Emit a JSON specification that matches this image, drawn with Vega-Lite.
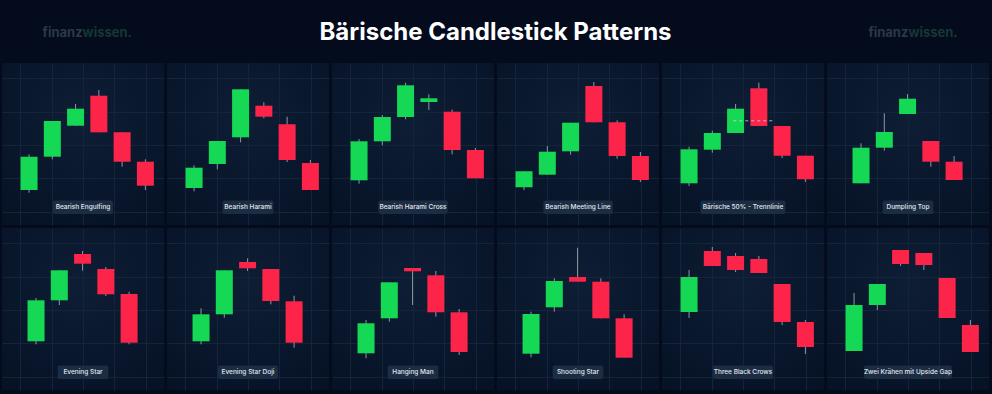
{
  "$schema": "https://vega.github.io/schema/vega-lite/v6.json",
  "background": "#030b1d",
  "padding": {"left": 2, "right": 3, "top": 0, "bottom": 4},
  "spacing": 3,
  "config": {
    "view": {"stroke": null},
    "axis": {"domain": false, "ticks": false, "labels": false, "title": null},
    "header": {"labels": false, "title": null, "labelFontSize": 0, "labelPadding": 0, "titlePadding": 0},
    "headerFacet": {"labels": false, "title": null, "labelFontSize": 0, "labelPadding": 0, "titlePadding": 0}
  },
  "vconcat": [
    {
      "width": 987,
      "height": 60,
      "data": {"values": [{"title": "Bärische Candlestick Patterns", "b1": "finanz", "b2": "wissen."}]},
      "layer": [
        {
          "mark": {"type": "text", "font": "Inter", "fontSize": 24, "fontWeight": 700, "color": "#ffffff", "baseline": "middle", "align": "center"},
          "encoding": {
            "x": {"datum": 3, "type": "quantitative", "scale": {"domain": [0, 6]}, "axis": null},
            "y": {"datum": 33, "type": "quantitative", "scale": {"domain": [0, 60], "reverse": true}, "axis": null},
            "text": {"field": "title"}
          }
        },
        {
          "mark": {"type": "text", "font": "Inter", "fontSize": 13, "fontWeight": 700, "color": "#2c3848", "baseline": "middle", "align": "right"},
          "encoding": {
            "x": {"datum": 0.49, "type": "quantitative"},
            "y": {"datum": 33, "type": "quantitative"},
            "text": {"field": "b1"}
          }
        },
        {
          "mark": {"type": "text", "font": "Inter", "fontSize": 13, "fontWeight": 700, "color": "#153834", "baseline": "middle", "align": "left"},
          "encoding": {
            "x": {"datum": 0.49, "type": "quantitative"},
            "y": {"datum": 33, "type": "quantitative"},
            "text": {"field": "b2"}
          }
        },
        {
          "mark": {"type": "text", "font": "Inter", "fontSize": 13, "fontWeight": 700, "color": "#2c3848", "baseline": "middle", "align": "right"},
          "encoding": {
            "x": {"datum": 5.51, "type": "quantitative"},
            "y": {"datum": 33, "type": "quantitative"},
            "text": {"field": "b1"}
          }
        },
        {
          "mark": {"type": "text", "font": "Inter", "fontSize": 13, "fontWeight": 700, "color": "#153834", "baseline": "middle", "align": "left"},
          "encoding": {
            "x": {"datum": 5.51, "type": "quantitative"},
            "y": {"datum": 33, "type": "quantitative"},
            "text": {"field": "b2"}
          }
        }
      ]
    },
    {
      "data": {"values": [
        {"p": "Bearish Engulfing", "k": 1, "x": 1, "o": 35, "h": 70.7, "l": 32.3, "c": 68.3},
        {"p": "Bearish Engulfing", "k": 2, "x": 2, "o": 68.3, "h": 104, "l": 65.7, "c": 104},
        {"p": "Bearish Engulfing", "k": 3, "x": 3, "o": 99.3, "h": 121, "l": 99.3, "c": 116.3},
        {"p": "Bearish Engulfing", "k": 4, "x": 4, "o": 129.3, "h": 135, "l": 92.7, "c": 92.7},
        {"p": "Bearish Engulfing", "k": 5, "x": 5, "o": 92.7, "h": 92.7, "l": 58.3, "c": 63.3},
        {"p": "Bearish Engulfing", "k": 6, "x": 6, "o": 63.3, "h": 65.7, "l": 35, "c": 39.3},

        {"p": "Bearish Harami", "k": 1, "x": 1, "o": 37, "h": 59.7, "l": 33.7, "c": 57.3},
        {"p": "Bearish Harami", "k": 2, "x": 2, "o": 61, "h": 84, "l": 55.7, "c": 84},
        {"p": "Bearish Harami", "k": 3, "x": 3, "o": 87.7, "h": 135.7, "l": 82.7, "c": 135.7},
        {"p": "Bearish Harami", "k": 4, "x": 4, "o": 119.3, "h": 122.7, "l": 106.7, "c": 108.3},
        {"p": "Bearish Harami", "k": 5, "x": 5, "o": 100.7, "h": 108.3, "l": 63, "c": 65},
        {"p": "Bearish Harami", "k": 6, "x": 6, "o": 62, "h": 65, "l": 35, "c": 35},

        {"p": "Bearish Harami Cross", "k": 1, "x": 1, "o": 44.7, "h": 86, "l": 41.3, "c": 83.7},
        {"p": "Bearish Harami Cross", "k": 2, "x": 2, "o": 83.7, "h": 110, "l": 79.7, "c": 108},
        {"p": "Bearish Harami Cross", "k": 3, "x": 3, "o": 108, "h": 142.3, "l": 105.7, "c": 139.7},
        {"p": "Bearish Harami Cross", "k": 4, "x": 4, "o": 123, "h": 130.7, "l": 115, "c": 126.7},
        {"p": "Bearish Harami Cross", "k": 5, "x": 5, "o": 113.3, "h": 115.3, "l": 70.7, "c": 75},
        {"p": "Bearish Harami Cross", "k": 6, "x": 6, "o": 75, "h": 77, "l": 46.7, "c": 46.7},

        {"p": "Bearish Meeting Line", "k": 1, "x": 1, "o": 37.7, "h": 53.7, "l": 35, "c": 53.7},
        {"p": "Bearish Meeting Line", "k": 2, "x": 2, "o": 50.3, "h": 79, "l": 50.3, "c": 73.3},
        {"p": "Bearish Meeting Line", "k": 3, "x": 3, "o": 73.7, "h": 102.3, "l": 70.3, "c": 102.3},
        {"p": "Bearish Meeting Line", "k": 4, "x": 4, "o": 139, "h": 143, "l": 102.7, "c": 102.7},
        {"p": "Bearish Meeting Line", "k": 5, "x": 5, "o": 102.7, "h": 104.7, "l": 66.3, "c": 69},
        {"p": "Bearish Meeting Line", "k": 6, "x": 6, "o": 69, "h": 73, "l": 43, "c": 45},

        {"p": "Bärische 50% - Trennlinie", "k": 1, "x": 1, "o": 41.7, "h": 78.3, "l": 39, "c": 75.7},
        {"p": "Bärische 50% - Trennlinie", "k": 2, "x": 2, "o": 75.3, "h": 94.3, "l": 72.3, "c": 92},
        {"p": "Bärische 50% - Trennlinie", "k": 3, "x": 3, "o": 92, "h": 121, "l": 92, "c": 116.3, "m": 104.2, "mx1": 2.9, "mx2": 4.65},
        {"p": "Bärische 50% - Trennlinie", "k": 4, "x": 4, "o": 136.7, "h": 142.3, "l": 99, "c": 99},
        {"p": "Bärische 50% - Trennlinie", "k": 5, "x": 5, "o": 99, "h": 99, "l": 67, "c": 69.3},
        {"p": "Bärische 50% - Trennlinie", "k": 6, "x": 6, "o": 69.3, "h": 69.3, "l": 43, "c": 45.7},

        {"p": "Dumpling Top", "k": 1, "x": 1.3, "o": 41.7, "h": 81.7, "l": 41.7, "c": 77.3},
        {"p": "Dumpling Top", "k": 2, "x": 2.3, "o": 77.3, "h": 111.7, "l": 74.3, "c": 93},
        {"p": "Dumpling Top", "k": 3, "x": 3.3, "o": 111, "h": 131, "l": 111, "c": 126.3},
        {"p": "Dumpling Top", "k": 4, "x": 4.3, "o": 84, "h": 84, "l": 58.3, "c": 63.3},
        {"p": "Dumpling Top", "k": 5, "x": 5.3, "o": 63.3, "h": 69, "l": 45, "c": 45},

        {"p": "Evening Star", "k": 1, "x": 1.3, "o": 48.7, "h": 92, "l": 45.7, "c": 89.7},
        {"p": "Evening Star", "k": 2, "x": 2.3, "o": 89.7, "h": 119.7, "l": 85, "c": 119.7},
        {"p": "Evening Star", "k": 3, "x": 3.3, "o": 136, "h": 139, "l": 119.3, "c": 126.3},
        {"p": "Evening Star", "k": 4, "x": 4.3, "o": 121, "h": 123, "l": 94, "c": 95.7},
        {"p": "Evening Star", "k": 5, "x": 5.3, "o": 96, "h": 98.3, "l": 45.7, "c": 47.3},

        {"p": "Evening Star Doji", "k": 1, "x": 1.3, "o": 48.7, "h": 81.7, "l": 45.7, "c": 75.7},
        {"p": "Evening Star Doji", "k": 2, "x": 2.3, "o": 75.7, "h": 119.7, "l": 72.3, "c": 119.7},
        {"p": "Evening Star Doji", "k": 3, "x": 3.3, "o": 128, "h": 131.7, "l": 119, "c": 121.7},
        {"p": "Evening Star Doji", "k": 4, "x": 4.3, "o": 121, "h": 121, "l": 85.7, "c": 89},
        {"p": "Evening Star Doji", "k": 5, "x": 5.3, "o": 88.7, "h": 94.3, "l": 42.3, "c": 47.3},

        {"p": "Hanging Man", "k": 1, "x": 1.3, "o": 36.7, "h": 70, "l": 31.7, "c": 66.7},
        {"p": "Hanging Man", "k": 2, "x": 2.3, "o": 71.7, "h": 107.7, "l": 68.3, "c": 107.7},
        {"p": "Hanging Man", "k": 3, "x": 3.3, "o": 122, "h": 122, "l": 85, "c": 118.7},
        {"p": "Hanging Man", "k": 4, "x": 4.3, "o": 114.7, "h": 119, "l": 73.3, "c": 77.7},
        {"p": "Hanging Man", "k": 5, "x": 5.3, "o": 77.7, "h": 81, "l": 35, "c": 38},

        {"p": "Shooting Star", "k": 1, "x": 1.3, "o": 36.3, "h": 78.3, "l": 32.7, "c": 76},
        {"p": "Shooting Star", "k": 2, "x": 2.3, "o": 82.7, "h": 111.7, "l": 78.3, "c": 109},
        {"p": "Shooting Star", "k": 3, "x": 3.3, "o": 113, "h": 142.3, "l": 108.3, "c": 108.3},
        {"p": "Shooting Star", "k": 4, "x": 4.3, "o": 108.3, "h": 111.7, "l": 71.7, "c": 71.7},
        {"p": "Shooting Star", "k": 5, "x": 5.3, "o": 71.7, "h": 75.7, "l": 32.3, "c": 32.3},

        {"p": "Three Black Crows", "k": 1, "x": 1, "o": 78, "h": 120, "l": 72, "c": 113},
        {"p": "Three Black Crows", "k": 2, "x": 2, "o": 139, "h": 143, "l": 124, "c": 124},
        {"p": "Three Black Crows", "k": 3, "x": 3, "o": 134, "h": 137, "l": 118, "c": 120},
        {"p": "Three Black Crows", "k": 4, "x": 4, "o": 131, "h": 134, "l": 117, "c": 117},
        {"p": "Three Black Crows", "k": 5, "x": 5, "o": 106, "h": 106, "l": 65, "c": 68},
        {"p": "Three Black Crows", "k": 6, "x": 6, "o": 68, "h": 70, "l": 36, "c": 43},

        {"p": "Zwei Krähen mit Upside Gap", "k": 1, "x": 1, "o": 39, "h": 97, "l": 39, "c": 85},
        {"p": "Zwei Krähen mit Upside Gap", "k": 2, "x": 2, "o": 85, "h": 106, "l": 80, "c": 106},
        {"p": "Zwei Krähen mit Upside Gap", "k": 3, "x": 3, "o": 140, "h": 140, "l": 124, "c": 126},
        {"p": "Zwei Krähen mit Upside Gap", "k": 4, "x": 4, "o": 137, "h": 137, "l": 120, "c": 125},
        {"p": "Zwei Krähen mit Upside Gap", "k": 5, "x": 5, "o": 112, "h": 112, "l": 72, "c": 72},
        {"p": "Zwei Krähen mit Upside Gap", "k": 6, "x": 6, "o": 65, "h": 70, "l": 38, "c": 38}
      ]},
      "facet": {
        "field": "p",
        "type": "nominal",
        "title": null,
        "header": {"labels": false, "title": null, "labelFontSize": 0, "labelPadding": 0, "titlePadding": 0},
        "sort": ["Bearish Engulfing", "Bearish Harami", "Bearish Harami Cross", "Bearish Meeting Line", "Bärische 50% - Trennlinie", "Dumpling Top", "Evening Star", "Evening Star Doji", "Hanging Man", "Shooting Star", "Three Black Crows", "Zwei Krähen mit Upside Gap"]
      },
      "columns": 6,
      "spacing": {"row": 3, "column": 3},
      "spec": {
        "width": 162,
        "height": 162,
        "view": {
          "stroke": null,
          "fill": {"gradient": "radial", "x1": 0.5, "y1": 0.35, "r1": 0, "x2": 0.5, "y2": 0.35, "r2": 0.75,
                   "stops": [{"offset": 0, "color": "#0e1e35"}, {"offset": 1, "color": "#061226"}]}
        },
        "layer": [
          {
            "mark": {"type": "rule", "color": "#8e98a4", "strokeWidth": 1},
            "encoding": {
              "x": {"field": "x", "type": "quantitative", "scale": {"domain": [0.052, 6.585], "nice": false, "zero": false},
                    "axis": {"values": [0.624, 1.2974, 1.9708, 2.6442, 3.318, 3.9914, 4.6648, 5.3382, 6.0116], "grid": true, "gridColor": "#142539", "gridWidth": 1}},
              "y": {"field": "l", "type": "quantitative", "scale": {"domain": [0, 162], "nice": false, "zero": false},
                    "axis": {"values": [13.3, 30, 46.7, 63.4, 80.1, 96.8, 113.5, 130.2, 146.9], "grid": true, "gridColor": "#142539", "gridWidth": 1}},
              "y2": {"field": "h"}
            }
          },
          {
            "mark": {"type": "bar", "width": 17},
            "encoding": {
              "x": {"field": "x", "type": "quantitative"},
              "y": {"field": "o", "type": "quantitative"},
              "y2": {"field": "c"},
              "color": {"condition": {"test": "datum.c > datum.o", "value": "#15d955"}, "value": "#fc2449"}
            }
          },
          {
            "transform": [{"filter": "isValid(datum.m)"}],
            "mark": {"type": "rule", "color": "#c8d0d8", "strokeWidth": 1, "strokeDash": [3, 3], "opacity": 0.85},
            "encoding": {
              "x": {"field": "mx1", "type": "quantitative"},
              "x2": {"field": "mx2"},
              "y": {"field": "m", "type": "quantitative"}
            }
          },
          {
            "transform": [
              {"filter": "datum.k == 1"},
              {"calculate": "max(54, 8 + length(datum.p) * 3.3) / 49.6", "as": "hw"},
              {"calculate": "3.318 - datum.hw", "as": "bx1"},
              {"calculate": "3.318 + datum.hw", "as": "bx2"}
            ],
            "mark": {"type": "rect", "color": "#1b2c43", "cornerRadius": 2},
            "encoding": {
              "x": {"field": "bx1", "type": "quantitative"},
              "x2": {"field": "bx2"},
              "y": {"datum": 11, "type": "quantitative"},
              "y2": {"datum": 24.5}
            }
          },
          {
            "transform": [{"filter": "datum.k == 1"}],
            "mark": {"type": "text", "font": "Inter", "fontSize": 6.5, "fontWeight": 500, "color": "#e3e9f0", "baseline": "middle", "align": "center"},
            "encoding": {
              "x": {"datum": 3.318, "type": "quantitative"},
              "y": {"datum": 17.7, "type": "quantitative"},
              "text": {"field": "p"}
            }
          }
        ]
      }
    }
  ]
}
